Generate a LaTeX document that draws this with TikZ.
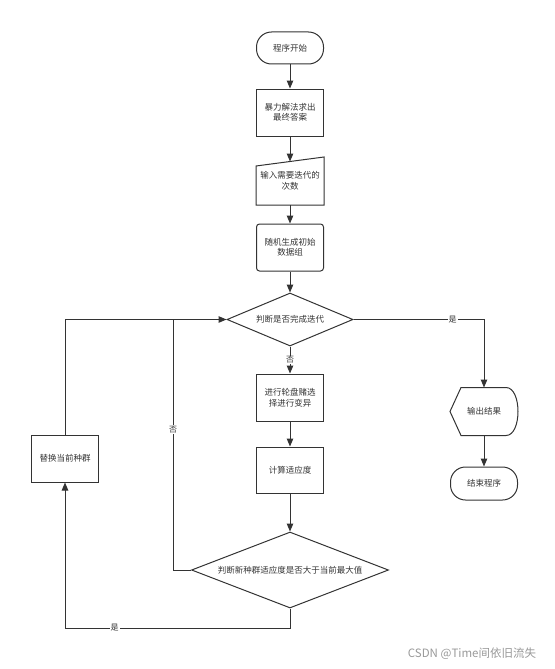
\documentclass[tikz,border=0pt]{standalone}
\usepackage{fontspec}
\newfontfamily\cjk{Noto Sans CJK SC}
\usepackage{xcolor}
\usepackage{tikz}
\usetikzlibrary{shapes.geometric,arrows.meta,calc}
\definecolor{ink}{HTML}{333333}

\begin{document}
\begin{tikzpicture}[x=1pt, y=-1pt,
  every node/.style={font=\cjk\fontsize{8.5}{10.5}\selectfont, text=ink, align=center},
  line/.style={draw=ink, line width=1pt},
  flow/.style={line, -{Triangle[length=8pt,width=6.5pt]}},
  box/.style={rectangle, draw=ink, line width=1pt, minimum width=67pt, minimum height=47pt, inner sep=1pt},
  term/.style={box, rounded corners=15pt, minimum height=32pt},
  decide/.style={diamond, draw=ink, line width=1pt, inner sep=0pt, aspect=2.4},
  tag/.style={fill=white, inner sep=1pt, font=\cjk\fontsize{8}{9}\selectfont}]
\useasboundingbox (0,0) rectangle (554,669);

% main column
\node[term] (start) at (290,48) {程序开始};
\node[box] (brute) at (290,112.5) {暴力解法求出\\最终答案};
\node[box, draw=none] (in) at (290,181) {输入需要迭代的\\次数};
\node[box, rounded corners=3pt] (init) at (290,247.5) {随机生成初始\\数据组};
\node[decide, minimum width=126pt, minimum height=53pt] (iter) at (290,319.5) {判断是否完成迭代};
\node[box] (sel) at (290,397.5) {进行轮盘赌选\\择进行变异};
\node[box, minimum height=46pt] (fit) at (290,470) {计算适应度};
\node[decide, minimum width=197pt, minimum height=76pt] (cmp) at (290,570) {判断新种群适应度是否大于当前最大值};

% side nodes
\node[box] (swap) at (65,458.5) {替换当前种群};
\node[box, draw=none] (out) at (484,411.5) {输出结果};
\node[term, minimum height=33pt] (stop) at (484,483.5) {结束程序};

% manual input and display outlines
\draw[line] (in.south west) -- ([yshift=-9pt]in.north west) -- (in.north east) -- (in.south east) -- cycle;
\coordinate (intop) at ($([yshift=-9pt]in.north west)!0.5!(in.north east)$);
\draw[line] (out.west) -- ([xshift=11pt]out.north west) -- ([xshift=-12pt]out.north east)
  .. controls ([xshift=4pt]out.north east) and ([xshift=4pt]out.south east) .. ([xshift=-12pt]out.south east)
  -- ([xshift=11pt]out.south west) -- cycle;

\coordinate (noX) at (173,0);
\coordinate (yesY) at (0,628);

% connectors
\draw[flow] (start) -- (brute);
\draw[flow] (brute) -- (intop);
\draw[flow] (in.south) -- (init);
\draw[flow] (init) -- (iter);
\draw[flow] (iter) -- node[tag]{否} (sel);
\draw[flow] (sel) -- (fit);
\draw[flow] (fit) -- (cmp);
\draw[flow] (swap.north) |- (iter.west);
\draw[line] (cmp.west) -| node[tag, pos=0.78]{否} (noX |- iter.west);
\draw[flow] (cmp.south) -- (cmp.south |- yesY) -| node[tag, pos=0.39]{是} (swap.south);
\draw[flow] (iter.east) -| node[tag, pos=0.38]{是} (out.north);
\draw[flow] (out.south) -- (stop);

\node[font=\cjk\fontsize{11.5}{13}\selectfont, text=gray!80] (mark) at (472,654) {CSDN @Time间依旧流失};
\end{tikzpicture}
\end{document}
